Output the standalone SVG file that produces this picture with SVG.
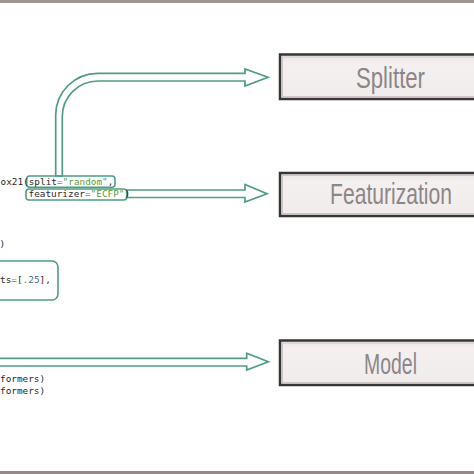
<svg xmlns="http://www.w3.org/2000/svg" width="474" height="474" viewBox="0 0 474 474">
<defs>
<linearGradient id="boxfill" x1="0" y1="0" x2="0" y2="1">
<stop offset="0" stop-color="#ece6e6"/>
<stop offset="0.2" stop-color="#f4f0f0"/>
<stop offset="1" stop-color="#f1ecec"/>
</linearGradient>
</defs>
<style>
.arrow{fill:#ffffff;stroke:#4f9c88;stroke-width:1.7;stroke-linejoin:miter}
.cbox{fill:none;stroke:#4f9c88;stroke-width:1.6}
.node rect.outer{fill:url(#boxfill);stroke:#3a3535;stroke-width:2.5}
.node rect.inner{fill:none;stroke:#cfc7c7;stroke-width:1}
.label{font-family:"Liberation Sans",Arial,sans-serif;font-size:29px;fill:#8d8686;text-anchor:middle}
.code{font-family:"DejaVu Sans Mono","Liberation Mono",monospace;font-size:9.4px;fill:#2a2a2a}
.eq{fill:#d0507a}
.str{fill:#5c9c3c}
.num{fill:#4a6aa0}
</style>
<rect x="0" y="0" width="474" height="474" fill="#ffffff"/>
<rect x="0" y="0" width="474" height="3" fill="#a09595"/>
<rect x="0" y="471" width="474" height="3" fill="#958a8a"/>

<g id="connectors">
<path class="arrow" d="M55.7,176 L55.7,115 A42,42 0 0 1 97.7,73.3 L245,73.3 L245,69 L268,77.3 L245,86 L245,81 L98,81 A35.7,35.7 0 0 0 62.3,116.7 L62.3,176 Z"/>
<path class="arrow" d="M127,190 L245,190 L245,184.5 L267,193.7 L245,202 L245,197.5 L127,197.5 Z"/>
<path class="arrow" d="M-5,358.3 L246.7,358.3 L246.7,353.3 L268.3,361.8 L246.7,370 L246.7,366 L-5,366 Z"/>
</g>

<g id="code">
<rect class="cbox" x="26.7" y="176" width="88.3" height="11.3" rx="3"/>
<rect class="cbox" x="26" y="189" width="100.7" height="11" rx="3"/>
<text class="code" x="0.5" y="185"><tspan>ox21(split</tspan><tspan class="eq">=</tspan><tspan class="str">"random"</tspan><tspan>,</tspan></text>
<text class="code" x="28.5" y="197"><tspan>featurizer</tspan><tspan class="eq">=</tspan><tspan class="str">"ECFP"</tspan><tspan>)</tspan></text>
<text class="code" x="-0.5" y="247">)</text>
<rect class="cbox" x="-10" y="261" width="68" height="39" rx="6"/>
<text class="code" x="0" y="283"><tspan>ts</tspan><tspan class="eq">=</tspan><tspan>[</tspan><tspan class="num">.25</tspan><tspan>],</tspan></text>
<text class="code" x="0" y="382">formers)</text>
<text class="code" x="0" y="394">formers)</text>
</g>

<g id="splitter" class="node">
<rect class="outer" x="280" y="54.5" width="210" height="44.5"/>
<rect class="inner" x="282.5" y="57" width="210" height="39.5"/>
<text class="label" transform="translate(390.5,87.5) scale(0.76,1)" x="0" y="0" textLength="90.8" lengthAdjust="spacingAndGlyphs">Splitter</text>
</g>
<g id="featurization" class="node">
<rect class="outer" x="280" y="173" width="210" height="43"/>
<rect class="inner" x="282.5" y="175.5" width="210" height="38"/>
<text class="label" transform="translate(391,204) scale(0.76,1)" x="0" y="0" textLength="160.5" lengthAdjust="spacingAndGlyphs">Featurization</text>
</g>
<g id="model" class="node">
<rect class="outer" x="280" y="340.5" width="210" height="44.5"/>
<rect class="inner" x="282.5" y="343" width="210" height="39.5"/>
<text class="label" transform="translate(390.5,373.5) scale(0.76,1)" x="0" y="0" textLength="69.7" lengthAdjust="spacingAndGlyphs">Model</text>
</g>
</svg>
